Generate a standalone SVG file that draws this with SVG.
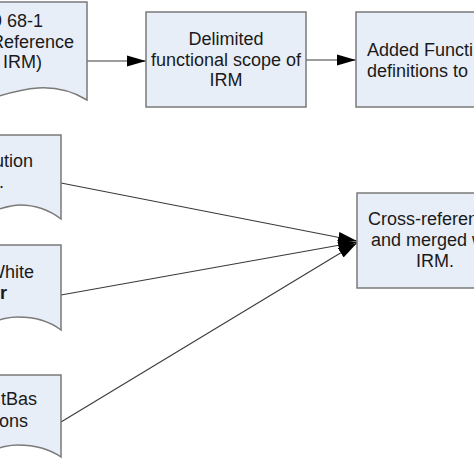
<svg xmlns="http://www.w3.org/2000/svg" width="474" height="474" viewBox="0 0 474 474">
<defs>
<marker id="arr" markerUnits="userSpaceOnUse" markerWidth="20" markerHeight="12" viewBox="0 0 20 12" refX="19" refY="6" orient="auto">
<path d="M0,0.5 L19,6 L0,11.5 Z" fill="#000"/>
</marker>
</defs>
<style>
.shape{fill:#e8eef8;stroke:#7a7a7a;stroke-width:1.5}
.t{font-family:"Liberation Sans",Arial,sans-serif;font-size:18px;fill:#1a1a1a}
.c{stroke:#3a3a3a;stroke-width:1.1;fill:none;marker-end:url(#arr)}
</style>
<rect width="474" height="474" fill="#fff"/>
<g id="connectors">
<line class="c" x1="87" y1="61" x2="146" y2="61"/>
<line class="c" x1="306" y1="60" x2="356" y2="60"/>
<line class="c" x1="61" y1="183" x2="357" y2="241"/>
<line class="c" x1="61" y1="295" x2="357" y2="242"/>
<line class="c" x1="61" y1="422" x2="357" y2="243"/>
</g>
<g id="doc1">
<path class="shape" d="M-60,2 H87 V100 C72,91 55,87 38,88 C22,89 8,93 -10,99 L-60,99 Z"/>
<text class="t" x="43" y="27" text-anchor="end">9 68-1</text>
<text class="t" x="74" y="48" text-anchor="end">Reference</text>
<text class="t" x="42" y="68" text-anchor="end">IRM)</text>
</g>
<g id="box2">
<rect class="shape" x="146" y="12" width="160" height="95"/>
<text class="t" x="226" y="45" text-anchor="middle">Delimited</text>
<text class="t" x="226" y="65.5" text-anchor="middle">functional scope of</text>
<text class="t" x="226" y="86" text-anchor="middle">IRM</text>
</g>
<g id="box3">
<rect class="shape" x="356" y="12" width="170" height="95"/>
<text class="t" x="367" y="56">Added Functi</text>
<text class="t" x="367" y="77">definitions to</text>
</g>
<g id="docA">
<path class="shape" d="M-60,135 H61 V219 C48,209 33,205 20,205 C10,205 2,208 -10,212 L-60,212 Z"/>
<text class="t" x="33" y="167" text-anchor="end">ution</text>
<text class="t" x="4" y="188" text-anchor="end">.</text>
</g>
<g id="docB">
<path class="shape" d="M-60,245 H61 V330 C48,320 33,317 18,317 C8,317 2,319 -10,323 L-60,323 Z"/>
<text class="t" x="34" y="278" text-anchor="end">White</text>
<text class="t" x="7" y="299" text-anchor="end" font-weight="bold">r</text>
</g>
<g id="docC">
<path class="shape" d="M-60,375 H61 V457 C48,448 33,445 18,445 C8,445 2,447 -10,451 L-60,451 Z"/>
<text class="t" x="37" y="405" text-anchor="end">tBas</text>
<text class="t" x="28" y="427" text-anchor="end">ons</text>
</g>
<g id="box4">
<rect class="shape" x="357" y="193" width="160" height="95"/>
<text class="t" x="368" y="225">Cross-referen</text>
<text class="t" x="371" y="246">and merged w</text>
<text class="t" x="435" y="267" text-anchor="middle">IRM.</text>
</g>
</svg>
